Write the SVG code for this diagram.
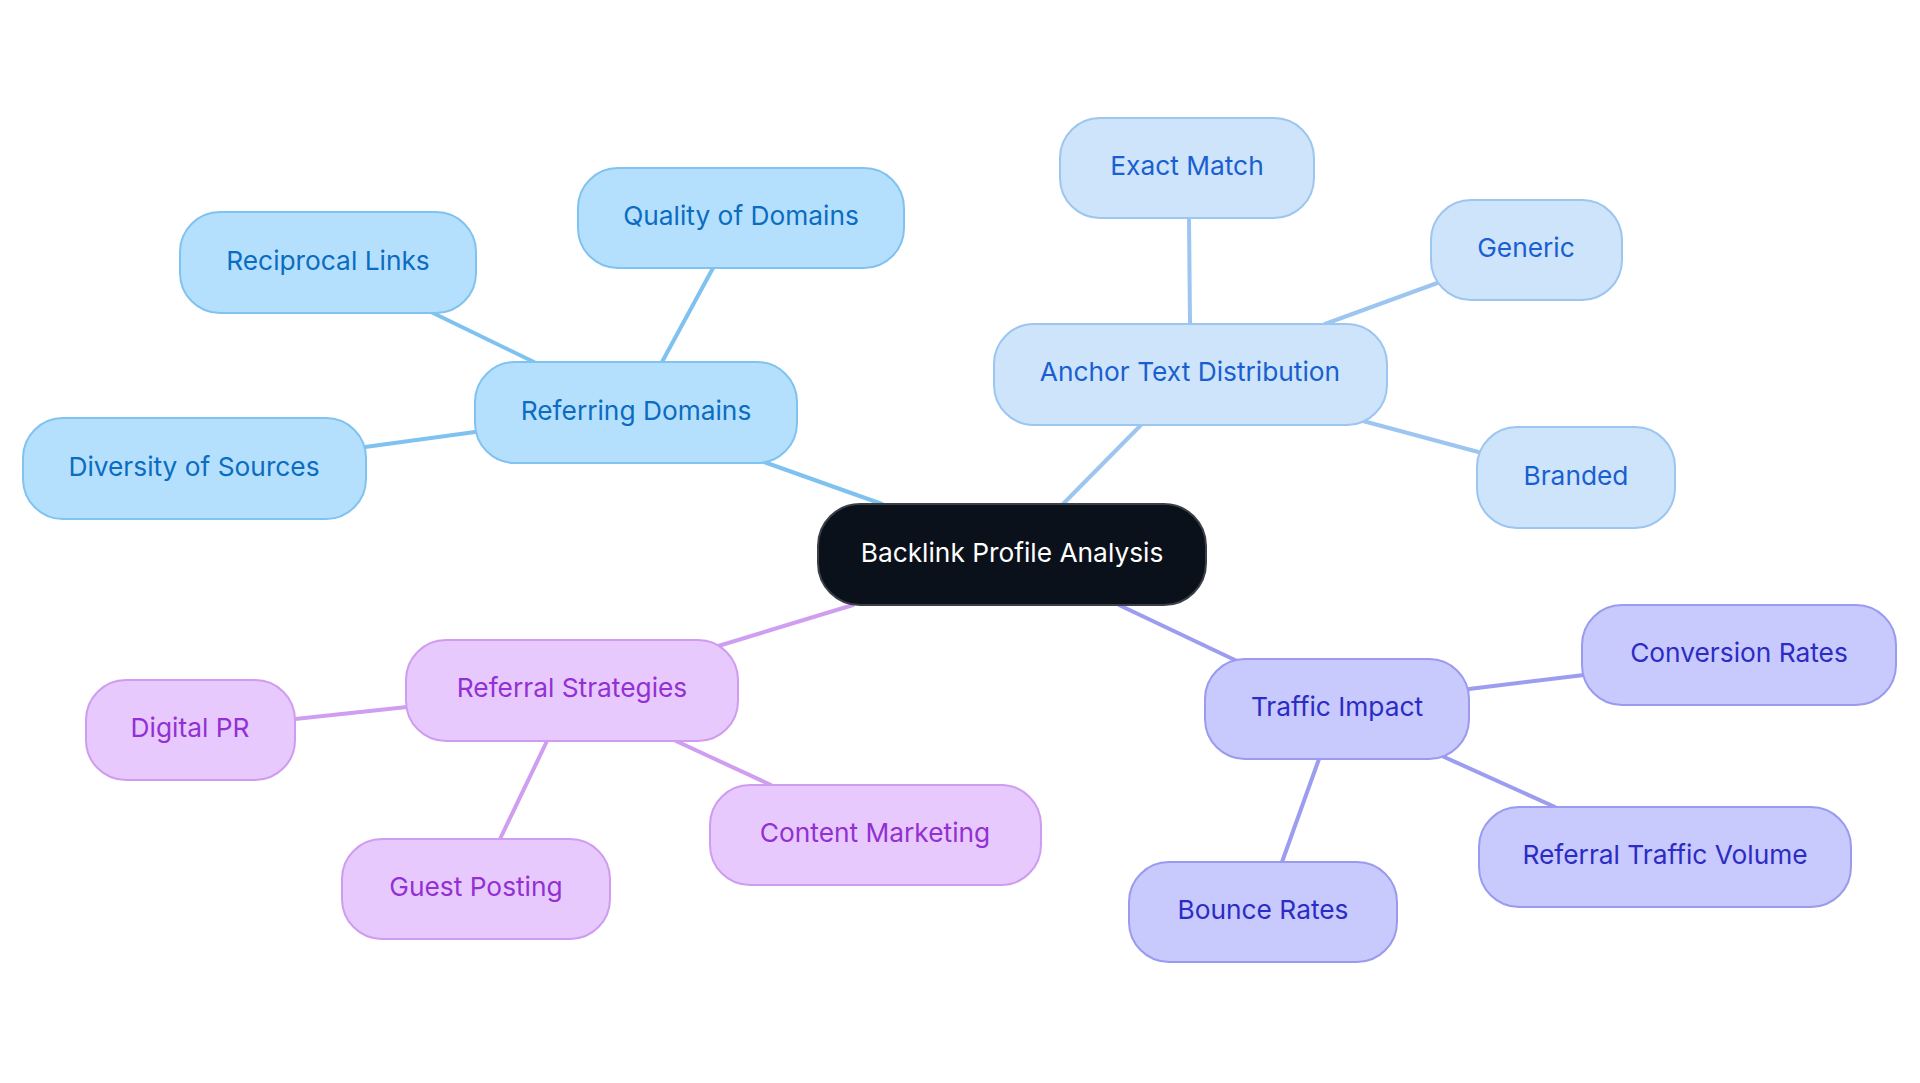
<svg xmlns="http://www.w3.org/2000/svg" width="1920" height="1083" viewBox="0 0 1920 1083">
<style>
text{font-family:Inter,"Noto Sans","Liberation Sans",sans-serif;font-size:26.3px;text-anchor:middle}
.e{fill:none;stroke-width:4;stroke-linecap:round}
.eb{stroke:#7fc2f0}.ea{stroke:#9cc5f0}.et{stroke:#9c9cf0}.er{stroke:#cf9ef0}
.nb rect{fill:#b5e0fd;stroke:#80c2f0;stroke-width:2}.nb text{fill:#0b6cc0}
.na rect{fill:#cde4fb;stroke:#9cc5f0;stroke-width:2}.na text{fill:#1a5fd0}
.nt rect{fill:#c8c9fc;stroke:#9a9aee;stroke-width:2}.nt text{fill:#2c2cc4}
.nr rect{fill:#e8c9fd;stroke:#cf9cef;stroke-width:2}.nr text{fill:#9230d4}
.nc rect{fill:#0b111b;stroke:#3b4048;stroke-width:2}.nc text{fill:#ffffff}
</style>
<rect width="1920" height="1083" fill="#ffffff"/>
<g id="connectors">
<line class="e eb" x1="882" y1="504" x2="764" y2="462"/>
<line class="e eb" x1="662" y1="362" x2="713" y2="268"/>
<line class="e eb" x1="534" y1="362" x2="431" y2="312"/>
<line class="e eb" x1="475" y1="432" x2="365" y2="447"/>
<line class="e ea" x1="1063" y1="504" x2="1141" y2="425"/>
<line class="e ea" x1="1190" y1="324" x2="1189" y2="218"/>
<line class="e ea" x1="1325" y1="324" x2="1440" y2="282"/>
<line class="e ea" x1="1363" y1="421" x2="1482" y2="453"/>
<line class="e et" x1="1119" y1="605" x2="1237" y2="661"/>
<line class="e et" x1="1469" y1="689" x2="1584" y2="675"/>
<line class="e et" x1="1442" y1="756" x2="1555" y2="807"/>
<line class="e et" x1="1319" y1="759" x2="1282" y2="862"/>
<line class="e er" x1="853" y1="605" x2="715" y2="647"/>
<line class="e er" x1="407" y1="707" x2="295" y2="719"/>
<line class="e er" x1="547" y1="741" x2="500" y2="839"/>
<line class="e er" x1="676" y1="741" x2="771" y2="785"/>
</g>
<g id="node-center" class="nc"><rect x="818" y="504" width="388" height="101" rx="42"/><text x="1012" y="562">Backlink Profile Analysis</text></g>
<g id="node-referring-domains" class="nb"><rect x="475" y="362" width="322" height="101" rx="40"/><text x="636" y="420">Referring Domains</text></g>
<g id="node-quality-of-domains" class="nb"><rect x="578" y="168" width="326" height="100" rx="40"/><text x="741" y="225">Quality of Domains</text></g>
<g id="node-reciprocal-links" class="nb"><rect x="180" y="212" width="296" height="101" rx="40"/><text x="328" y="270">Reciprocal Links</text></g>
<g id="node-diversity-of-sources" class="nb"><rect x="23" y="418" width="343" height="101" rx="40"/><text x="194" y="476">Diversity of Sources</text></g>
<g id="node-anchor-text" class="na"><rect x="994" y="324" width="393" height="101" rx="40"/><text x="1190" y="381">Anchor Text Distribution</text></g>
<g id="node-exact-match" class="na"><rect x="1060" y="118" width="254" height="100" rx="40"/><text x="1187" y="175">Exact Match</text></g>
<g id="node-generic" class="na"><rect x="1431" y="200" width="191" height="100" rx="40"/><text x="1526" y="257">Generic</text></g>
<g id="node-branded" class="na"><rect x="1477" y="427" width="198" height="101" rx="40"/><text x="1576" y="485">Branded</text></g>
<g id="node-traffic-impact" class="nt"><rect x="1205" y="659" width="264" height="100" rx="40"/><text x="1337" y="716">Traffic Impact</text></g>
<g id="node-conversion-rates" class="nt"><rect x="1582" y="605" width="314" height="100" rx="40"/><text x="1739" y="662">Conversion Rates</text></g>
<g id="node-referral-traffic-volume" class="nt"><rect x="1479" y="807" width="372" height="100" rx="40"/><text x="1665" y="864">Referral Traffic Volume</text></g>
<g id="node-bounce-rates" class="nt"><rect x="1129" y="862" width="268" height="100" rx="40"/><text x="1263" y="919">Bounce Rates</text></g>
<g id="node-referral-strategies" class="nr"><rect x="406" y="640" width="332" height="101" rx="40"/><text x="572" y="697">Referral Strategies</text></g>
<g id="node-digital-pr" class="nr"><rect x="86" y="680" width="209" height="100" rx="40"/><text x="190" y="737">Digital PR</text></g>
<g id="node-guest-posting" class="nr"><rect x="342" y="839" width="268" height="100" rx="40"/><text x="476" y="896">Guest Posting</text></g>
<g id="node-content-marketing" class="nr"><rect x="710" y="785" width="331" height="100" rx="40"/><text x="875" y="842">Content Marketing</text></g>
</svg>
